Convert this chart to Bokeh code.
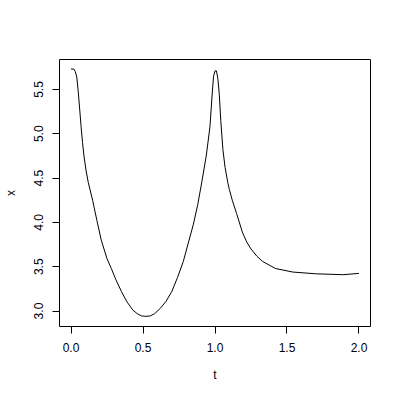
from bokeh.plotting import figure
from bokeh.models import Range1d, FixedTicker, PrintfTickFormatter
from bokeh.embed import file_html
from bokeh.resources import INLINE

t_vals = [0.00, 0.02, 0.03, 0.04, 0.05, 0.06, 0.07, 0.08, 0.09, 0.105, 0.12, 0.15,
          0.18, 0.21, 0.25, 0.28, 0.31, 0.35, 0.39, 0.43, 0.46, 0.49, 0.52, 0.55,
          0.58, 0.62, 0.66, 0.70, 0.74, 0.78, 0.82, 0.85, 0.88, 0.91, 0.94, 0.965,
          0.981, 0.99, 1.00, 1.01, 1.02, 1.03, 1.04, 1.055, 1.07, 1.09, 1.10, 1.12,
          1.15, 1.19, 1.22, 1.25, 1.29, 1.33, 1.42, 1.54, 1.70, 1.89, 2.00]
x_vals = [5.73, 5.73, 5.70, 5.64, 5.48, 5.28, 5.08, 4.90, 4.75, 4.58, 4.45, 4.25,
          4.02, 3.80, 3.59, 3.48, 3.36, 3.22, 3.10, 3.01, 2.97, 2.945, 2.94, 2.945,
          2.97, 3.03, 3.11, 3.22, 3.38, 3.56, 3.80, 3.98, 4.20, 4.47, 4.76, 5.08,
          5.46, 5.65, 5.71, 5.71, 5.62, 5.44, 5.15, 4.82, 4.62, 4.44, 4.37, 4.25,
          4.10, 3.89, 3.78, 3.70, 3.62, 3.56, 3.48, 3.44, 3.42, 3.41, 3.425]
x_ticks = [0.0, 0.5, 1.0, 1.5, 2.0]
y_ticks = [3.0, 3.5, 4.0, 4.5, 5.0, 5.5]
x_label = "t"
y_label = "x"

FONT = "Liberation Sans"

p = figure(width=384, height=384, output_backend="svg", toolbar_location=None,
           x_range=Range1d(-0.08, 2.08), y_range=Range1d(2.8255, 5.838),
           min_border_left=59, min_border_right=14, min_border_top=59,
           min_border_bottom=58, x_axis_label=x_label, y_axis_label=y_label)
p.line(t_vals, x_vals, line_color="black", line_width=1)

p.grid.visible = False
p.outline_line_color = "black"
p.outline_line_width = 1
p.background_fill_color = "white"
p.border_fill_color = "white"

p.xaxis.ticker = FixedTicker(ticks=x_ticks)
p.yaxis.ticker = FixedTicker(ticks=y_ticks)
p.xaxis.formatter = PrintfTickFormatter(format="%.1f")
p.yaxis.formatter = PrintfTickFormatter(format="%.1f")
for ax in (p.xaxis, p.yaxis):
    ax.axis_line_color = None
    ax.major_tick_line_color = "black"
    ax.major_tick_out = 7
    ax.major_tick_in = 0
    ax.minor_tick_line_color = None
    ax.major_label_text_font = FONT
    ax.major_label_text_font_size = "12px"
    ax.major_label_text_color = "black"
    ax.axis_label_text_font = FONT
    ax.axis_label_text_font_size = "12px"
    ax.axis_label_text_font_style = "normal"
    ax.axis_label_text_color = "black"
p.yaxis.major_label_orientation = "vertical"
p.xaxis.major_label_standoff = 9
p.yaxis.major_label_standoff = 9
p.xaxis.axis_label_standoff = 13
p.yaxis.axis_label_standoff = 14

open("out.html", "w").write(file_html(p, INLINE))
